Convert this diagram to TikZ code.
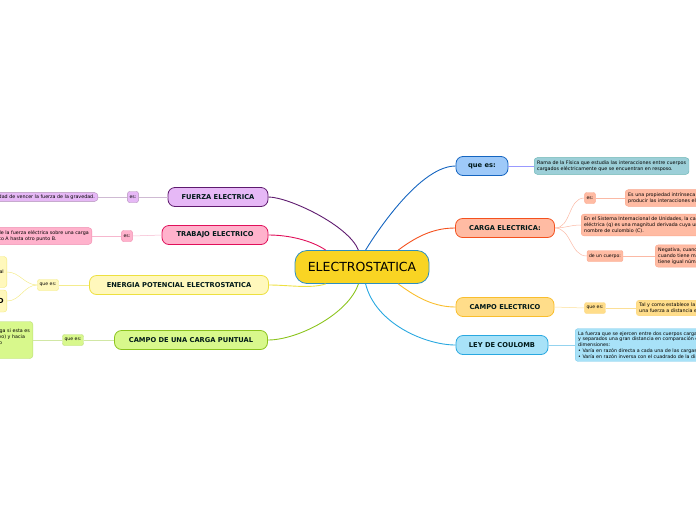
\documentclass[tikz,border=0pt]{standalone}
\usepackage{fontspec}
\setmainfont{DejaVu Sans}
\begin{document}
\begin{tikzpicture}[x=1pt,y=1pt,
 mainn/.style={draw,rounded corners=7pt,line width=0.8pt,font=\bfseries\fontsize{6.7}{7.5}\selectfont,text=black!80!teal,minimum height=19pt,inner sep=1pt},
 lab/.style={draw,rounded corners=2pt,line width=0.4pt,font=\fontsize{4.6}{5.5}\selectfont,minimum height=11pt,inner sep=2pt},
 txt/.style={draw,rounded corners=3pt,line width=0.4pt,font=\fontsize{4.8}{5.8}\selectfont,align=left,inner sep=3pt},
 conn/.style={line width=0.9pt},
 sub/.style={line width=0.5pt}]
\useasboundingbox (0,0) rectangle (696,-520);
\clip (0,0) rectangle (696,-520);
\definecolor{cblue}{HTML}{1565C0}\definecolor{fblue}{HTML}{9EC9F8}
\definecolor{cora}{HTML}{F4511E}\definecolor{fora}{HTML}{FFBBA3}
\definecolor{cyel}{HTML}{F9BE2E}\definecolor{fyel}{HTML}{FFDD8A}
\definecolor{clb}{HTML}{29A8E0}\definecolor{flb}{HTML}{A8E2F8}
\definecolor{cpur}{HTML}{5E1A6E}\definecolor{fpur}{HTML}{E6B8F6}
\definecolor{cpink}{HTML}{E0105A}\definecolor{fpink}{HTML}{FFB2CC}
\definecolor{cly}{HTML}{EDE040}\definecolor{fly}{HTML}{FFF8BC}
\definecolor{cgr}{HTML}{8CC41E}\definecolor{fgr}{HTML}{D8F88C}
\definecolor{fteal}{HTML}{9CCFD8}
\definecolor{fcen}{HTML}{F9D423}\definecolor{ccen}{HTML}{2E8FC0}
% center
\node[draw=ccen,fill=fcen,rounded corners=12pt,line width=0.8pt,minimum width=134pt,minimum height=33pt,font=\fontsize{12.5}{14}\selectfont] (c) at (362,-267) {ELECTROSTATICA};
% right branches
\node[mainn,draw=cblue,fill=fblue,minimum width=52pt] (q) at (482,-166) {que es:};
\node[txt,draw=teal!60,fill=fteal,anchor=west] (qt) at (534,-166) {Rama de la Física que estudia las interacciones entre cuerpos\\cargados eléctricamente que se encuentran en resposo.};
\node[mainn,draw=cora,fill=fora,minimum width=99pt] (ce) at (505,-228) {CARGA ELECTRICA:};
\node[lab,draw=cora!50,fill=fora] (ces) at (590,-198) {es:};
\node[txt,draw=cora!50,fill=fora,anchor=west] (cest) at (625,-198) {Es una propiedad intrínseca de la materia\\producir las interacciones eléctricas};
\node[txt,draw=cora!50,fill=fora,anchor=west] (csi) at (581,-225) {En el Sistema Internacional de Unidades, la carga\\eléctrica (q) es una magnitud derivada cuya unidad\\nombre de culombio (C).};
\node[lab,draw=cora!50,fill=fora] (cdc) at (605,-256) {de un cuerpo:};
\node[txt,draw=cora!50,fill=fora,anchor=west] (cdct) at (655,-256) {Negativa, cuando\\cuando tiene más\\tiene igual número};
\node[mainn,draw=cyel,fill=fyel,minimum width=98pt] (cel) at (505,-307) {CAMPO ELECTRICO};
\node[lab,draw=cyel!60,fill=fyel] (celq) at (595,-308) {que es:};
\node[txt,draw=cyel!60,fill=fyel,anchor=west] (celt) at (636,-308) {Tal y como establece la ley\\una fuerza a distancia entre};
\node[mainn,draw=clb,fill=flb,minimum width=92pt] (lc) at (502,-345) {LEY DE COULOMB};
\node[txt,draw=clb!60,fill=flb,anchor=west] (lct) at (575,-345) {La fuerza que se ejercen entre dos cuerpos cargados\\y separados una gran distancia en comparación con sus\\dimensiones:\\• Varía en razón directa a cada una de las cargas\\• Varía en razón inversa con el cuadrado de la distancia};
% left branches
\node[mainn,draw=cpur,fill=fpur,minimum width=100pt] (fe) at (218,-197) {FUERZA ELECTRICA};
\node[lab,draw=cpur!50,fill=fpur] (fes) at (133,-197) {es:};
\node[txt,draw=cpur!50,fill=fpur,anchor=east,inner ysep=2pt] (fet) at (98,-197) {capacidad de vencer la fuerza de la gravedad.};
\node[mainn,draw=cpink,fill=fpink,minimum width=106pt] (te) at (215,-235) {TRABAJO ELECTRICO};
\node[lab,draw=cpink!50,fill=fpink] (tes) at (127,-236) {es:};
\node[txt,draw=cpink!50,fill=fpink,anchor=east] (tet) at (92,-236) {Es el trabajo de la fuerza eléctrica sobre una carga\\desde un punto A hasta otro punto B.};
\node[mainn,draw=cly,fill=fly,minimum width=179pt] (ep) at (179,-285) {ENERGIA POTENCIAL ELECTROSTATICA};
\node[lab,draw=cly!70,fill=fly] (epq) at (48,-285) {que es:};
\node[txt,draw=cly!70,fill=fly,anchor=east,minimum height=31pt] (ept1) at (7,-272) {energía potencial};
\node[txt,draw=cly!70,fill=fly,anchor=east,minimum height=22pt,font=\bfseries\fontsize{7}{8}\selectfont] (ept2) at (7,-301) {ED};
\node[mainn,draw=cgr,fill=fgr,minimum width=153pt] (cp) at (191,-340) {CAMPO DE UNA CARGA PUNTUAL};
\node[lab,draw=cgr!60,fill=fgr] (cpq) at (73,-340) {que es:};
\node[txt,draw=cgr!60,fill=fgr,anchor=east,minimum height=37pt] (cpt) at (33,-340) {campo de la carga si esta es\\positiva (negativo) y hacia\\dentro, el campo\\con la distancia,};
% main connectors
\draw[conn,cblue] (c.78) .. controls +(0,0) and +(-40,0) .. (q.west);
\draw[conn,cora] (c.25) .. controls +(20,15) and +(-20,0) .. (ce.west);
\draw[conn,cyel] (c.-25) .. controls +(20,-15) and +(-20,0) .. (cel.west);
\draw[conn,clb] (c.-78) .. controls +(10,-40) and +(-30,0) .. (lc.west);
\draw[conn,cpur] (c.102) .. controls +(-10,25) and +(20,0) .. (fe.east);
\draw[conn,cpink] (c.155) .. controls +(-15,10) and +(20,0) .. (te.east);
\draw[conn,cly] (c.205) .. controls +(-15,-5) and +(20,0) .. (ep.east);
\draw[conn,cgr] (c.-102) .. controls +(-10,-30) and +(30,0) .. (cp.east);
% sub connectors
\draw[sub,blue!40] (q.east) -- (qt.west);
\draw[sub,cora!40] (ce.east) to[out=0,in=180] (ces.west);
\draw[sub,cora!40] (ce.east) to[out=0,in=180] (csi.west);
\draw[sub,cora!40] (ce.east) to[out=0,in=180] (cdc.west);
\draw[sub,cora!40] (ces.east) -- (cest.west);
\draw[sub,cora!40] (cdc.east) -- (cdct.west);
\draw[sub,cyel!50] (cel.east) -- (celq.west);
\draw[sub,cyel!50] (celq.east) -- (celt.west);
\draw[sub,clb!50] (lc.east) -- (lct.west);
\draw[sub,cpur!30] (fe.west) -- (fes.east);
\draw[sub,cpur!30] (fes.west) -- (fet.east);
\draw[sub,cpink!30] (te.west) -- (tes.east);
\draw[sub,cpink!30] (tes.west) -- (tet.east);
\draw[sub,cly!60] (ep.west) -- (epq.east);
\draw[sub,cly!60] (epq.west) to[out=180,in=0] (ept1.east);
\draw[sub,cly!60] (epq.west) to[out=180,in=0] (ept2.east);
\draw[sub,cgr!40] (cp.west) -- (cpq.east);
\draw[sub,cgr!40] (cpq.west) -- (cpt.east);
\end{tikzpicture}
\end{document}
